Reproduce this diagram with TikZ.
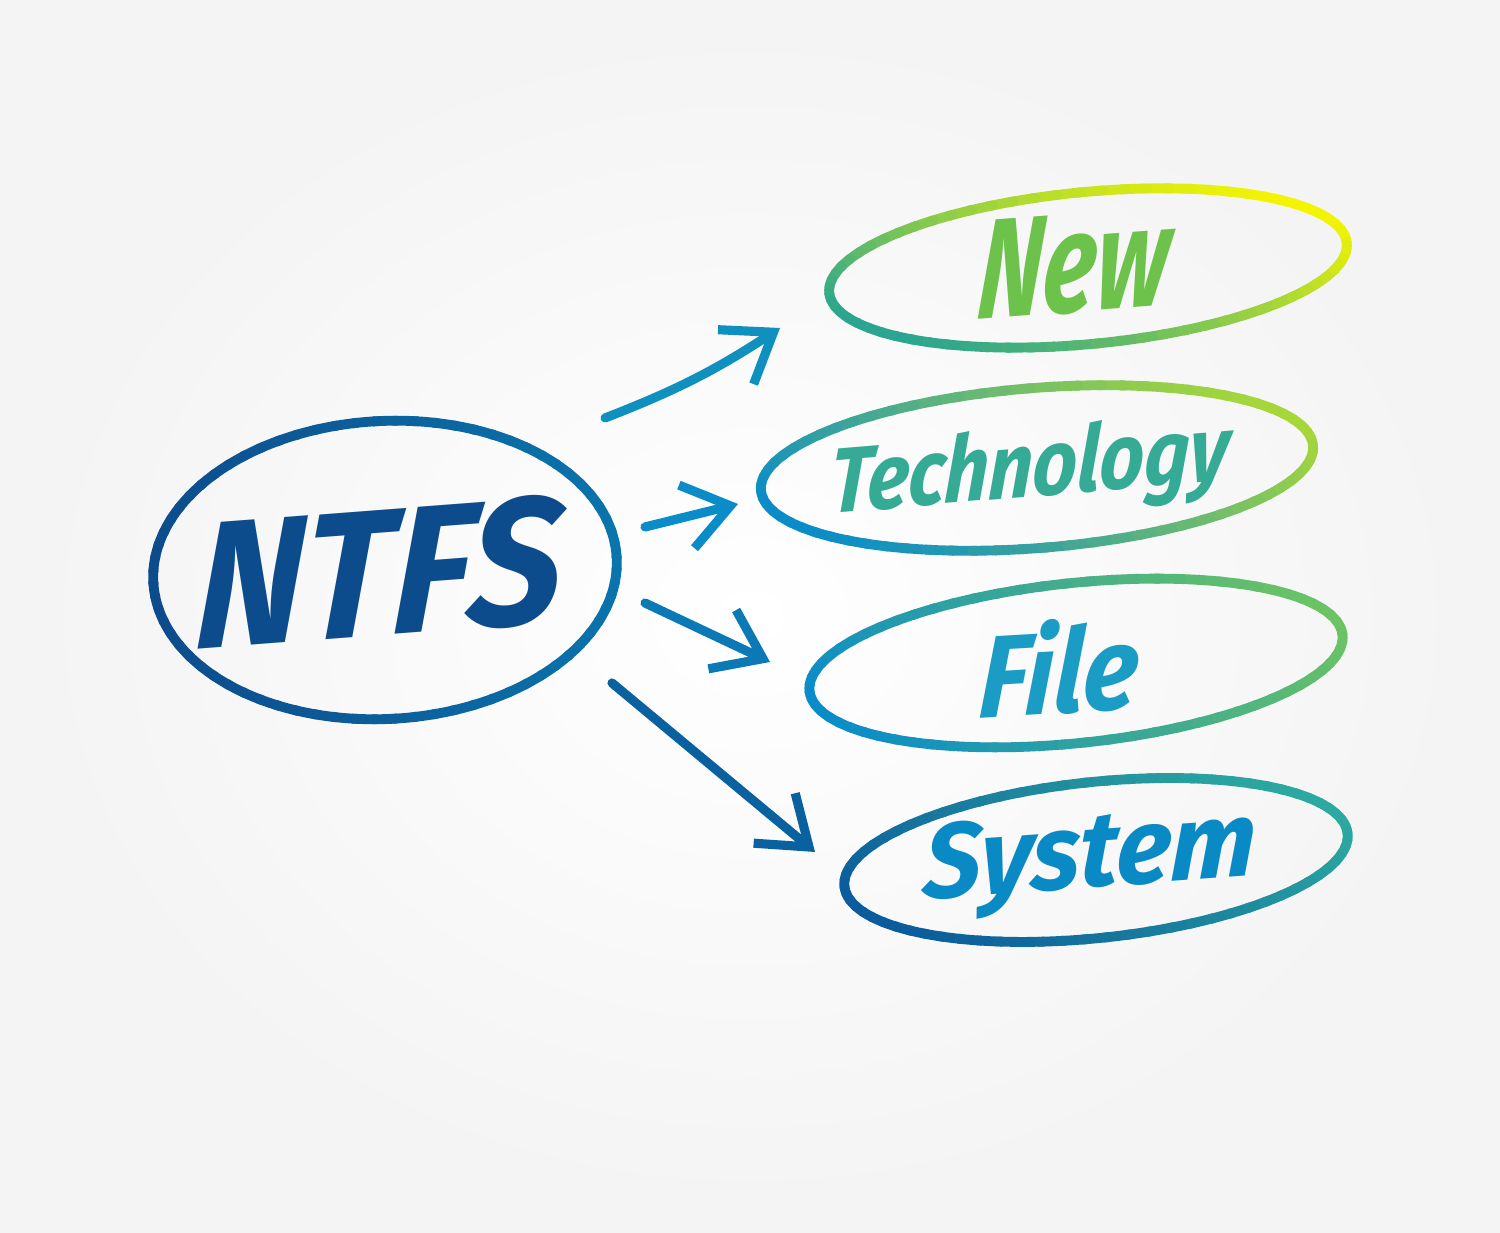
\documentclass[tikz,border=0pt]{standalone}
\usepackage{fontspec}
\setmainfont{Fira Sans}
\usetikzlibrary{arrows.meta}

\definecolor{ntfsblue}{HTML}{0D4C8C}
\definecolor{ntfsright}{HTML}{0A74AC}
\definecolor{newteal}{HTML}{2BA58F}
\definecolor{newyellow}{HTML}{F5F500}
\definecolor{newgreen}{HTML}{6CC24A}
\definecolor{techblue}{HTML}{0A8CC8}
\definecolor{techlime}{HTML}{A8D838}
\definecolor{techtext}{HTML}{35AA95}
\definecolor{filegreen}{HTML}{6CC462}
\definecolor{filetext}{HTML}{1A9CC4}
\definecolor{sysblue}{HTML}{0A5C9C}
\definecolor{systeal}{HTML}{2CAAA0}
\definecolor{systext}{HTML}{0A8AC4}

\tikzset{
  handarrow/.style={line width=2.6pt, line cap=round, -{Straight Barb[length=4.5mm, width=6.5mm]}},
  handtext/.style={inner sep=0pt, xslant=0.12}
}

% cx, cy, rx, ry, tilt, left colour, right colour, phase
\newcommand{\handring}[8]{%
  \begin{scope}[shift={(#1,#2)}, rotate=#5]
    \foreach \a in {0,5,...,355} {
      \pgfmathtruncatemacro{\mixp}{50*(1+cos(\a-#8))}
      \draw[line width=2.8pt, line cap=round, color=#7!\mixp!#6]
        (\a:#3 and #4) arc[start angle=\a, delta angle=6, x radius=#3, y radius=#4];
    }
  \end{scope}}

\begin{document}
\begin{tikzpicture}
  \useasboundingbox (0,0) rectangle (15,12.33);
  \shade[inner color=white, outer color=gray!9] (0,0) rectangle (15,12.33);

  % rings
  \handring{3.85}{6.63}{2.32}{1.49}{3}{ntfsblue}{ntfsright}{0}
  \handring{10.88}{9.65}{2.60}{0.76}{5.5}{newteal}{newyellow}{30}
  \handring{10.37}{7.65}{2.77}{0.80}{4.6}{techblue}{techlime}{20}
  \handring{10.76}{5.70}{2.68}{0.80}{6}{techblue}{filegreen}{10}
  \handring{10.96}{3.73}{2.53}{0.78}{6}{sysblue}{systeal}{20}

  % labels
  \node[handtext, ntfsblue, font=\fontsize{47}{47}\selectfont\bfseries\itshape, yscale=1.1, rotate=4] (ntfs) at (3.80,6.60) {NTFS};
  \node[handtext, newgreen, font=\fontsize{28}{28}\selectfont\bfseries\itshape, yscale=1.45, rotate=3] (new) at (10.75,9.69) {New};
  \node[handtext, techtext, font=\fontsize{22}{22}\selectfont\bfseries\itshape, yscale=1.2, rotate=4] (tech) at (10.30,7.61) {Technology};
  \node[handtext, filetext, font=\fontsize{29}{29}\selectfont\bfseries\itshape, yscale=1.15, rotate=3] (file) at (10.60,5.66) {File};
  \node[handtext, systext, font=\fontsize{29}{29}\selectfont\bfseries\itshape, yscale=1.05, rotate=4] (system) at (10.90,3.72) {System};

  % arrow ends
  \coordinate (s1) at (6.05,8.15); \coordinate (e1) at (7.80,9.05);
  \coordinate (s2) at (6.45,7.06); \coordinate (e2) at (7.38,7.29);
  \coordinate (s3) at (6.45,6.30); \coordinate (e3) at (7.70,5.71);
  \coordinate (s4) at (6.12,5.50); \coordinate (e4) at (8.15,3.81);

  \draw[handarrow, color=techblue!85!newteal] (s1) to[bend right=6] (e1);
  \draw[handarrow, color=techblue] (s2) -- (e2);
  \draw[handarrow, color=techblue!60!sysblue] (s3) -- (e3);
  \draw[handarrow, color=sysblue!90!techblue] (s4) -- (e4);
\end{tikzpicture}
\end{document}
